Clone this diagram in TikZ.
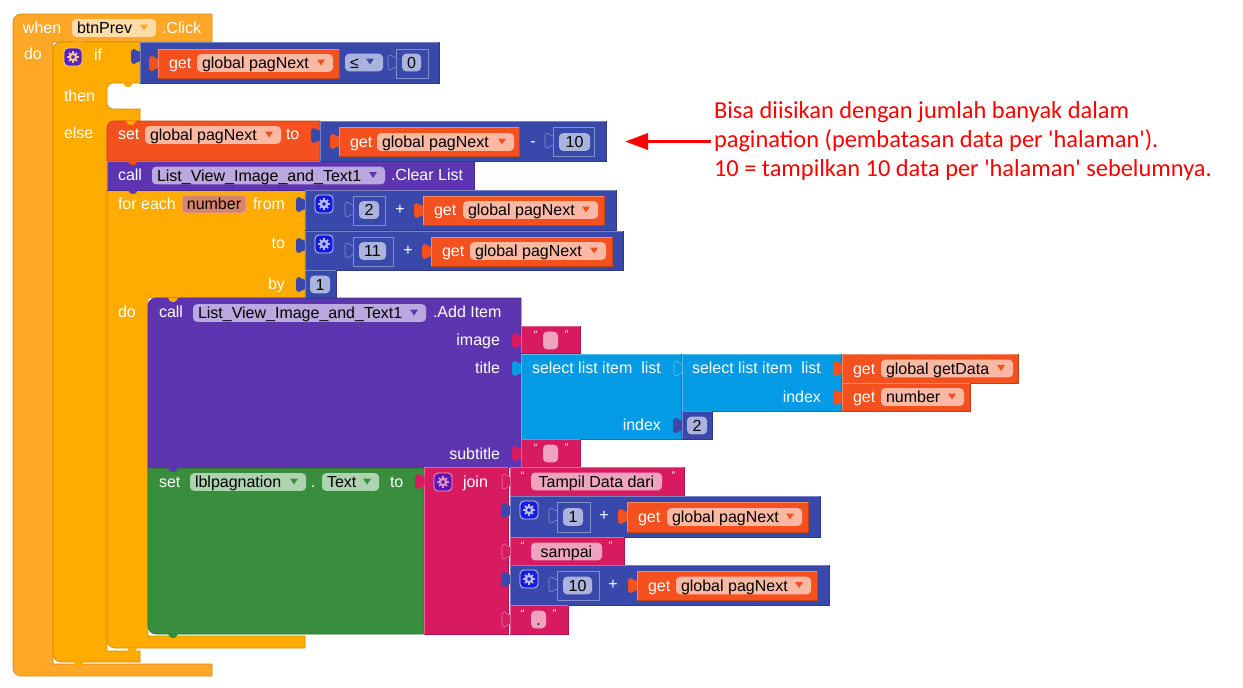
\documentclass[tikz,border=0pt]{standalone}
\usepackage{fontspec}
\setmainfont{Liberation Sans}
\newfontfamily\notefont{Carlito}
\usetikzlibrary{arrows.meta}
\definecolor{cWhen}{HTML}{FFA726}
\definecolor{cCtl}{HTML}{FFAB00}
\definecolor{cBlue}{HTML}{3949AB}
\definecolor{cGet}{HTML}{F4511E}
\definecolor{cPur}{HTML}{5E35B1}
\definecolor{cGrn}{HTML}{388E3C}
\definecolor{cPink}{HTML}{D81B60}
\definecolor{cCyan}{HTML}{039BE5}
\definecolor{pWhen}{HTML}{FFDCA8}
\definecolor{pBlue}{HTML}{AAB3DC}
\definecolor{pGet}{HTML}{FBB8A3}
\definecolor{pPur}{HTML}{BAA8DE}
\definecolor{pGrn}{HTML}{AFD3B1}
\definecolor{pPink}{HTML}{F0A3BF}
\definecolor{cNote}{HTML}{FF0000}
\definecolor{gIfBox}{HTML}{5A22B8}
\definecolor{gIfGear}{HTML}{E9C990}
\definecolor{gIfEdge}{HTML}{FFD58A}
\definecolor{gBlBox}{HTML}{1A1ADD}
\definecolor{gBlGear}{HTML}{B5C0EE}
\definecolor{gBlEdge}{HTML}{C8D0F4}
\definecolor{gPkBox}{HTML}{5A14B8}
\definecolor{gPkGear}{HTML}{E090C0}
\definecolor{gPkEdge}{HTML}{F0A8C8}
\definecolor{numFill}{HTML}{D98468}
\definecolor{numEdge}{HTML}{E9A488}
\newcounter{nn}
\tikzset{
  lbl/.style={inner sep=0pt,outer sep=0pt,font=\fontsize{16}{18}\selectfont},
  qt/.style={inner sep=0pt,outer sep=0pt,text=white,font=\fontsize{11}{12}\selectfont\itshape},
  note/.style={inner sep=0pt,outer sep=0pt,text=cNote,anchor=base west,font=\notefont\fontsize{24.4}{27}\selectfont},
  edge/.style={draw=#1!82!black,line width=.6pt},
}
% text, left aligned / right aligned / centred
\newcommand\tx[4][white]{\stepcounter{nn}\node[lbl,text=#1,anchor=base west] (n\thenn) at ({#2},{#3+5.6}) {#4};}
\newcommand\txr[4][white]{\stepcounter{nn}\node[lbl,text=#1,anchor=base east] (n\thenn) at ({#2},{#3+5.6}) {#4};}
\newcommand\txc[4][white]{\stepcounter{nn}\node[lbl,text=#1,anchor=base] (n\thenn) at ({#2},{#3+5.6}) {#4};}
% plain block {colour}{x1}{y1}{x2}{y2}
\newcommand\blk[5]{%
  \fill[#1] (#2,#3) rectangle (#4-.6,#5);
  \draw[#1!80!black,line width=.7pt] (#4-.6,#3) -- (#4-.6,#5) -- (#2,#5);
  \draw[#1!68!white,line width=.7pt] (#2,#5) -- (#2,#3) -- (#4-.6,#3);
}
% tab, filled
\newcommand\tabf[3]{\fill[#1] (#2+.5,#3+3) .. controls (#2-2.5,#3+3.5) and (#2-3.5,#3) .. (#2-6,#3) .. controls (#2-8,#3) and (#2-9,#3+1.5) .. (#2-9,#3+3.5) -- (#2-9,#3+11.5) .. controls (#2-9,#3+13.5) and (#2-8,#3+15) .. (#2-6,#3+15) .. controls (#2-3.5,#3+15) and (#2-2.5,#3+11.5) .. (#2+.5,#3+12) -- cycle;}
% tab, outlined socket
\newcommand\tabo[3]{\draw[fill=#1,draw=#1!62!white,line width=.6pt] (#2,#3+3) .. controls (#2-2.5,#3+3.5) and (#2-3.5,#3) .. (#2-5.5,#3) .. controls (#2-7.5,#3) and (#2-8,#3+1.5) .. (#2-8,#3+3.5) -- (#2-8,#3+11.5) .. controls (#2-8,#3+13.5) and (#2-7.5,#3+15) .. (#2-5.5,#3+15) .. controls (#2-3.5,#3+15) and (#2-2.5,#3+11.5) .. (#2,#3+12);}
% notch {colour}{x}{y}
\newcommand\nt[3]{\fill[#1] (#2,#3-.4) .. controls (#2+2,#3-.4) .. (#2+4,#3+3) .. controls (#2+5,#3+4.2) and (#2+9,#3+4.2) .. (#2+10,#3+3) .. controls (#2+12,#3-.4) .. (#2+14,#3-.4) -- cycle;}
\newcommand\tri[3]{\fill[#3] (#1-4,#2-3.5) -- (#1+4,#2-3.5) -- (#1,#2+2.5) -- cycle;}
% plain pill {x1}{x2}{yc}{fill}
\newcommand\pil[4]{\fill[#4,rounded corners=4pt] (#1,#3-8.8) rectangle (#2,#3+8.8);}
% dropdown {x1}{x2}{yc}{fill}{tri colour}{text}
\newcommand\dd[6]{\pil{#1}{#2}{#3}{#4}\tx[black]{#1+5}{#3}{#6}\tri{#2-12}{#3}{#5}}
% number pill
\newcommand\npl[4]{\pil{#1}{#2}{#3}{pBlue}\txc[black]{(#1+#2)/2}{#3}{#4}}
% number socket {x1}{x2}{y1}{y2}
\newcommand\sock[4]{\tabo{cBlue}{#1}{#3+6}\draw[cBlue!62!white,fill=cBlue,line width=.7pt] (#1,#3) rectangle (#2,#4);}
% get block {x1}{x2}{y1}{y2}{yc}{pill x1}{pill x2}{text}
\newcommand\getb[8]{\tabf{cGet}{#1}{#3+7}\blk{cGet}{#1}{#3}{#2}{#4}\tx{#1+11}{#5}{get}\dd{#6}{#7}{#5}{pGet}{cGet}{#8}}
% gear icon
\newcommand\gearb[5]{%
  \draw[fill=#3,draw=#5,line width=.8pt,rounded corners=4pt] (#1-9,#2-9) rectangle (#1+9,#2+9);
  \draw[#4,line width=2.2pt] (#1,#2) circle (3.1pt);
  \foreach \gang in {0,45,90,135,180,225,270,315}{\draw[#4,line width=1.7pt] ([shift={(\gang:3.5pt)}]#1,#2) -- ([shift={(\gang:5.8pt)}]#1,#2);}
}
% empty / text string {x1}{x2}{y1}{y2}{pill x1}{pill x2}{left quote x}{right quote x}{text}
\newcommand\strb[9]{\blk{cPink}{#1}{#3}{#2}{#4}\stepcounter{nn}\node[qt] (n\thenn) at (#7,#3+9) {“};\stepcounter{nn}\node[qt] (n\thenn) at (#8,#3+9) {”};\pil{#5}{#6}{#3+14.5}{pPink}\txc[black]{(#5+#6)/2}{#3+14.5}{#9}}
\begin{document}
\begin{tikzpicture}[x=1pt,y=-1pt]
\useasboundingbox (0,0) rectangle (1243,688);
\fill[white] (0,0) rectangle (1243,688);
% when
\filldraw[fill=cWhen,edge=cWhen] (212,14) -- (212,42) -- (53,42) -- (53,664) -- (212,664) -- (212,676) [rounded corners=8pt] -- (13,676) -- (13,14) [sharp corners] -- cycle;
% if
\filldraw[fill=cCtl,edge=cCtl] (140,42) -- (140,83) [rounded corners=6pt] -- (107,83) -- (107,109) [sharp corners] -- (140,109) -- (140,121) -- (107,121) -- (107,651) -- (140,651) -- (140,662) [rounded corners=8pt] -- (53,662) -- (53,42) [sharp corners] -- cycle;
\fill[cCtl] (106,120) rectangle (116,130);
% for each
\filldraw[fill=cCtl,edge=cCtl] (305,190) -- (305,298) -- (148,298) -- (148,636) -- (305,636) -- (305,648) [rounded corners=8pt] -- (107,648) [sharp corners] -- (107,190) -- cycle;
% set global / call clear
\filldraw[fill=cGet,draw=cGet!80!black,line width=.7pt] (320,121) -- (320,161) -- (107,161) [rounded corners=7pt] -- (107,121) [sharp corners] -- cycle;
\blk{cPur}{107}{161}{475}{190}
% add item
\filldraw[fill=cPur,edge=cPur] (521,298) -- (521,468) -- (148,468) [rounded corners=8pt] -- (148,298) [sharp corners] -- cycle;
% set text
\filldraw[fill=cGrn,edge=cGrn] (424,468) -- (424,634) [rounded corners=8pt] -- (148,634) [sharp corners] -- (148,468) -- cycle;
\blk{cPink}{424}{467}{509}{634}
% notches
\nt{cWhen}{72}{42}
\nt{cCtl}{121}{83}
\nt{cCtl}{124}{121}
\nt{cGet}{126}{161}
\nt{cPur}{126}{190}
\nt{cCtl}{166}{298}
\nt{cPur}{166}{468}
\nt{cGrn}{166}{634}
\nt{cCtl}{125}{648}
\nt{cCtl}{72}{662}
% when header
\tx{23}{28}{when}
\dd{72}{156}{28}{pWhen}{cWhen}{btnPrev}
\tx{162}{28}{.Click}
\tx{24}{54}{do}
% if
\gearb{73}{57}{gIfBox}{gIfGear}{gIfEdge}
\tx{94}{55}{if}
\tx{64}{96}{then}
\tx{64}{133}{else}
\tabf{cBlue}{140}{49}
\blk{cBlue}{140}{42}{440}{83}
\getb{158}{340}{49}{78}{63}{197}{333}{global pagNext}
\pil{345}{383}{62.5}{pBlue}\tx[black]{350}{62.5}{≤}\tri{370}{62}{cBlue}
\sock{396}{428}{49}{78}
\npl{402}{421}{62.5}{0}
% set global
\tx{118}{134}{set}
\dd{145}{281}{135}{pGet}{cGet}{global pagNext}
\tx{286}{134}{to}
\tabf{cBlue}{320}{128}
\blk{cBlue}{320}{121}{607}{161}
\getb{339}{520}{127}{156}{142}{377}{514}{global pagNext}
\txc{533}{141}{-}
\sock{553}{594}{127}{156}
\npl{559}{590}{142}{10}
% clear
\tx{118}{175}{call}
\dd{152}{385}{175.5}{pPur}{cPur}{List\_View\_Image\_and\_Text1}
\tx{391}{175}{.Clear List}
% for each
\tx{118}{204}{for each}
\draw[fill=numFill,draw=numEdge,line width=1pt,rounded corners=4pt] (182,195) rectangle (246,213);
\txc[black]{214}{204}{number}
\tx{253}{204}{from}
\txr{285}{243}{to}
\txr{285}{284}{by}
\tx{118}{312}{do}
\tabf{cBlue}{305}{197}
\blk{cBlue}{305}{190}{617}{230}
\gearb{324}{204}{gBlBox}{gBlGear}{gBlEdge}
\sock{353}{385}{196}{225}
\npl{359}{379}{210}{2}
\txc{400}{209}{+}
\getb{423}{605}{196}{225}{210}{463}{598}{global pagNext}
\tabf{cBlue}{305}{238}
\blk{cBlue}{305}{231}{624}{270}
\gearb{324}{244}{gBlBox}{gBlGear}{gBlEdge}
\sock{353}{393}{237}{266}
\npl{359}{386}{251}{11}
\txc{408}{250}{+}
\getb{431}{613}{237}{266}{251}{470}{606}{global pagNext}
\tabf{cBlue}{305}{277}
\blk{cBlue}{305}{270}{337}{298}
\npl{310}{330}{284.5}{1}
% add item
\tx{159}{312}{call}
\dd{193}{426}{313}{pPur}{cPur}{List\_View\_Image\_and\_Text1}
\tx{433}{312}{.Add Item}
\txr{500}{340}{image}
\txr{500}{368}{title}
\txr{500}{454}{subtitle}
\tabf{cPink}{521}{333}
\strb{521}{581}{326}{353}{543}{558}{535}{566}{}
\tabf{cCyan}{521}{361}
\blk{cCyan}{521}{354}{682}{439}
\tx{532}{368}{select list item\ \ list}
\txr{661}{425}{index}
\tabo{cCyan}{682}{361}
\blk{cCyan}{682}{354}{842}{411}
\tx{692}{368}{select list item\ \ list}
\txr{821}{397}{index}
\getb{842}{1019}{354}{383}{368.5}{881}{1013}{global getData}
\getb{842}{971}{383}{411}{397}{881}{964}{number}
\tabf{cBlue}{682}{418}
\blk{cBlue}{682}{411}{713}{439}
\npl{687}{707}{425.5}{2}
\tabf{cPink}{521}{446}
\strb{521}{581}{439}{467}{543}{558}{535}{566}{}
% set label text
\tx{159}{482}{set}
\dd{190}{306}{482}{pGrn}{cGrn}{lblpagnation}
\txc{313}{482}{.}
\dd{322}{379}{482}{pGrn}{cGrn}{Text}
\tx{390}{482}{to}
\tabf{cPink}{424}{474}
\gearb{443}{482}{gPkBox}{gPkGear}{gPkEdge}
\tx{463}{482}{join}
% join items
\tabo{cPink}{510}{474}
\strb{510}{685}{467}{496}{531}{662}{522}{673}{Tampil Data dari}
\tabf{cBlue}{510}{503}
\blk{cBlue}{510}{496}{821}{537}
\gearb{529}{510}{gBlBox}{gBlGear}{gBlEdge}
\sock{557}{590}{502}{532}
\npl{563}{583}{517}{1}
\txc{604}{515}{+}
\getb{627}{809}{502}{532}{517}{667}{802}{global pagNext}
\tabo{cPink}{510}{544}
\strb{510}{625}{537}{565}{531}{602}{522}{610}{sampai}
\tabf{cBlue}{510}{572}
\blk{cBlue}{510}{565}{830}{605}
\gearb{529}{579}{gBlBox}{gBlGear}{gBlEdge}
\sock{557}{599}{571}{600}
\npl{563}{592}{585.5}{10}
\txc{613}{584}{+}
\getb{637}{818}{571}{600}{585.5}{676}{811}{global pagNext}
\tabo{cPink}{510}{612}
\strb{510}{569}{605}{634}{531}{546}{522}{554}{.}
% annotation
\node[note] (noteA) at (714,118) {Bisa diisikan dengan jumlah banyak dalam};
\node[note] (noteB) at (714,147.5) {pagination (pembatasan data per 'halaman').};
\node[note] (noteC) at (714,176) {10 = tampilkan 10 data per 'halaman' sebelumnya.};
\coordinate (tipA) at (625,141.5);
\coordinate (startA) at (711,141.5);
\draw[cNote,line width=3.4pt,-{Triangle[length=23pt,width=16pt]}] (startA) -- (tipA);
\end{tikzpicture}
\end{document}
